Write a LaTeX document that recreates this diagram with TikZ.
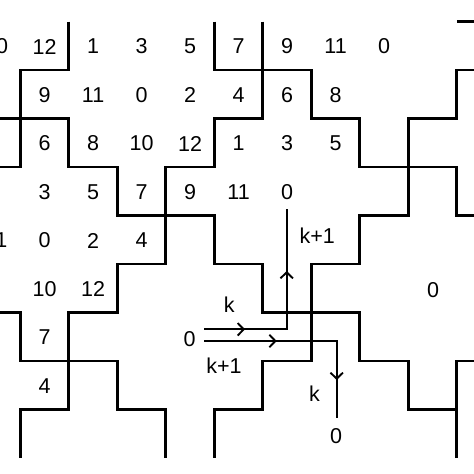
\documentclass[tikz,border=0pt]{standalone}
\usepackage{fontspec}
\setmainfont{Liberation Sans}
\usetikzlibrary{arrows.meta}
\begin{document}
\begin{tikzpicture}[x=1pt,y=-1pt,
  wall/.style={line width=2.8pt, line join=miter},
  route/.style={line width=1.9pt, line join=miter},
  tip/.style={-{Straight Barb[length=6pt,width=12.5pt]}},
  num/.style={inner sep=0pt, font=\fontsize{21.5}{25}\selectfont},
]
\useasboundingbox (0,0) rectangle (474,474);
\clip (0,0) rectangle (474,474);
\begin{scope}[shift={(20.3pt,-21.5pt)},x=48.5pt,y=-48.5pt]
  % walls
  \draw[wall] (1,0)--(1,1)--(0,1)--(0,3)--(-0.6,3);
  \draw[wall] (-0.6,2)--(1,2)--(1,3)--(2,3)--(2,4)--(4,4)--(4,5)--(5,5)--(5,6)--(7,6)--(7,7)--(8,7)--(8,8)--(9,8);
  \draw[wall] (9,9)--(9,7)--(9.6,7);
  \draw[wall] (5,0)--(5,2)--(4,2)--(4,3)--(3,3)--(3,5)--(2,5)--(2,6)--(1,6)--(1,8)--(0,8)--(0,9);
  \draw[wall] (4,0)--(4,1)--(6,1)--(6,2)--(7,2)--(7,3)--(9,3)--(9,4)--(9.6,4);
  \draw[wall] (9.6,1)--(9,1)--(9,2)--(8,2)--(8,4)--(7,4)--(7,5)--(6,5)--(6,7)--(5,7)--(5,8)--(4,8)--(4,9);
  \draw[wall] (-0.6,6)--(0,6)--(0,7)--(2,7)--(2,8)--(3,8)--(3,9);
  \draw[wall] (9,0)--(9.6,0);
  % numbers
  \begin{scope}[num/.append style={yshift=-0.8pt}]
  \foreach \v [count=\i from -1] in {10,12,1,3,5,7,9,11,0}
    \node[num] (r0c\i) at (\i+0.5,0.5) {\v};
  \foreach \v [count=\i from 0] in {9,11,0,2,4,6,8}
    \node[num] (r1c\i) at (\i+0.5,1.5) {\v};
  \foreach \v [count=\i from 0] in {6,8,10,12,1,3,5}
    \node[num] (r2c\i) at (\i+0.5,2.5) {\v};
  \foreach \v [count=\i from 0] in {3,5,7,9,11,0}
    \node[num] (r3c\i) at (\i+0.5,3.5) {\v};
  \foreach \v [count=\i from -1] in {11,0,2,4}
    \node[num] (r4c\i) at (\i+0.5,4.5) {\v};
  \foreach \v [count=\i from 0] in {10,12}
    \node[num] (r5c\i) at (\i+0.5,5.5) {\v};
  \node[num] (r6c0) at (0.5,6.5) {7};
  \node[num] (r7c0) at (0.5,7.5) {4};
  \end{scope}
\end{scope}
% labels
\node[num] (kup) at (317.2,235.8) {k+1};
\node[num] (kin) at (229.2,304.3) {k};
\node[num] (kbl) at (224,366) {k+1};
\node[num] (kdn) at (314.5,393.3) {k};
\node[num] (zorg) at (189.5,339.2) {0};
\node[num] (zbot) at (336,436) {0};
\node[num] (zrgt) at (433,290) {0};
% routes
\coordinate (a1s) at (204,329.3);
\coordinate (a1m) at (245,329.3);
\coordinate (a1c) at (286.7,329.3);
\coordinate (a1u) at (286.7,271);
\coordinate (a1e) at (286.7,209);
\coordinate (a2s) at (204,341);
\coordinate (a2m) at (276.7,341);
\coordinate (a2c) at (336.7,341);
\coordinate (a2d) at (336.7,380);
\coordinate (a2e) at (336.7,418.3);
\draw[route] (a1s) -- (a1c) -- (a1e);
\draw[route,tip] (a1s) -- (a1m);
\draw[route,tip] (a1c) -- (a1u);
\draw[route] (a2s) -- (a2c) -- (a2e);
\draw[route,tip] (a2s) -- (a2m);
\draw[route,tip] (a2c) -- (a2d);
\end{tikzpicture}
\end{document}
